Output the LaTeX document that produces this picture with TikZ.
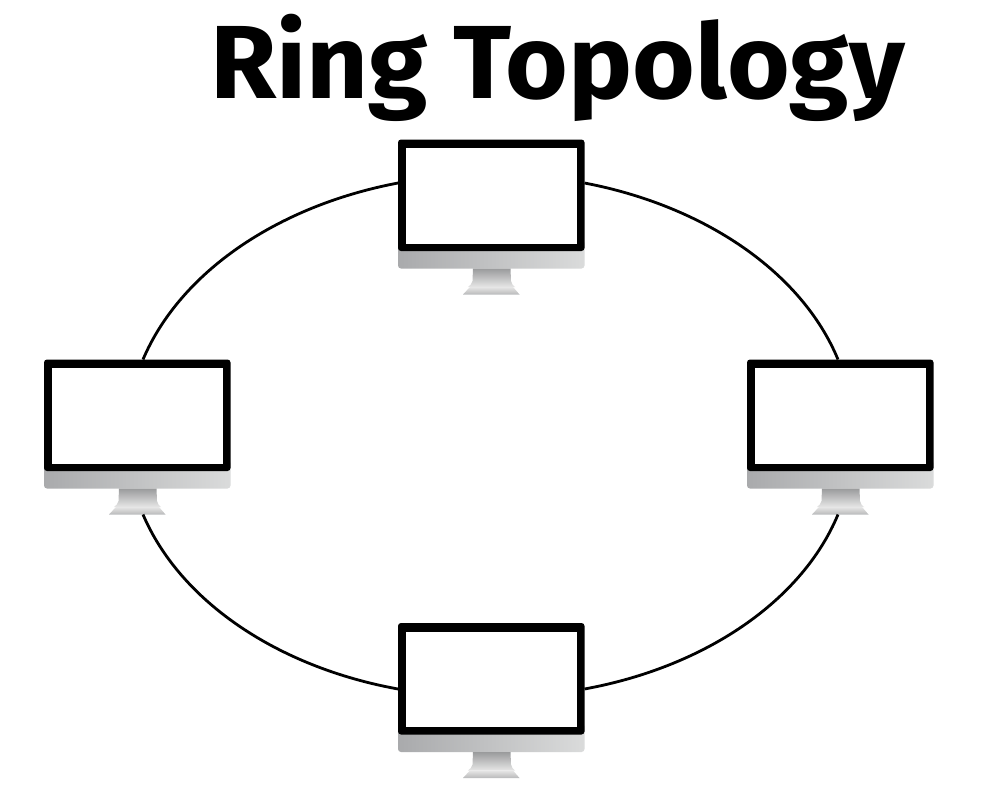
\documentclass[tikz,border=0pt]{standalone}
\usepackage{fontspec}
\setmainfont{Fira Sans}[BoldFont={Fira Sans Bold}]
\usetikzlibrary{calc}
\definecolor{silverL}{HTML}{A9AAAC}
\definecolor{silverR}{HTML}{DADBDB}
\definecolor{standT}{HTML}{9A9B9C}
\definecolor{standB}{HTML}{E6E6E6}
\tikzset{
  x=1pt,y=-1pt,
  ring/.style={draw=black,line width=2.8pt},
  bezel/.style={fill=black,rounded corners=3pt},
  screen/.style={fill=white,draw=none,inner sep=0pt,outer sep=0pt,minimum width=171pt,minimum height=95.5pt},
  chin/.style={left color=silverL,right color=silverR,rounded corners=3pt},
  stem/.style={top color=standT,bottom color=standB},
  foot/.style={top color=standB,bottom color=standT!70!white},
  title/.style={font=\bfseries\fontsize{104}{104}\selectfont,inner sep=0pt,anchor=base,text=black}
}
% #1 name, #2 x offset, #3 y offset
\newcommand{\monitorat}[3]{%
  \begin{scope}[shift={(#2,#3)}]
    \path[chin] (398,240) rectangle (584.5,268.5);
    \path[stem] (473,268.5) -- (510.5,268.5) -- (511,281) .. controls (511.5,284) and (513,285.5) .. (515,287) -- (468,287) .. controls (470,285.5) and (472,284) .. (472.5,281) -- cycle;
    \path[foot] (470,287) -- (513,287) -- (519.5,294.5) -- (463,294.5) -- cycle;
    \path[bezel] (398,139.5) rectangle (584.5,251);
    \node[screen] (#1) at (491.3,195.75) {};
  \end{scope}}
\begin{document}
\begin{tikzpicture}
\useasboundingbox[fill=white] (0,0) rectangle (994,806);
\node[title,xscale=1.034] (heading) at (557.5,98) {Ring Topology};
\monitorat{mtop}{0}{0}
\monitorat{mleft}{-354}{220}
\monitorat{mright}{349}{220}
\monitorat{mbot}{0}{483.5}
\draw[ring] ($(mtop.west)+(-7.8,-12.75)$) .. controls (277,206) and (180,272.5) .. ($(mleft.north)+(5.7,-8.5)$);
\draw[ring] ($(mtop.east)+(7.7,-12.75)$) .. controls (705,206) and (802,272.5) .. ($(mright.north)+(-2.3,-8.5)$);
\draw[ring] ($(mleft.south)+(5.7,51)$) .. controls (180,601) and (277,667) .. ($(mbot.west)+(-7.8,9.75)$);
\draw[ring] ($(mright.south)+(-2.3,51)$) .. controls (802,601) and (705,667) .. ($(mbot.east)+(7.7,9.75)$);
\end{tikzpicture}
\end{document}
